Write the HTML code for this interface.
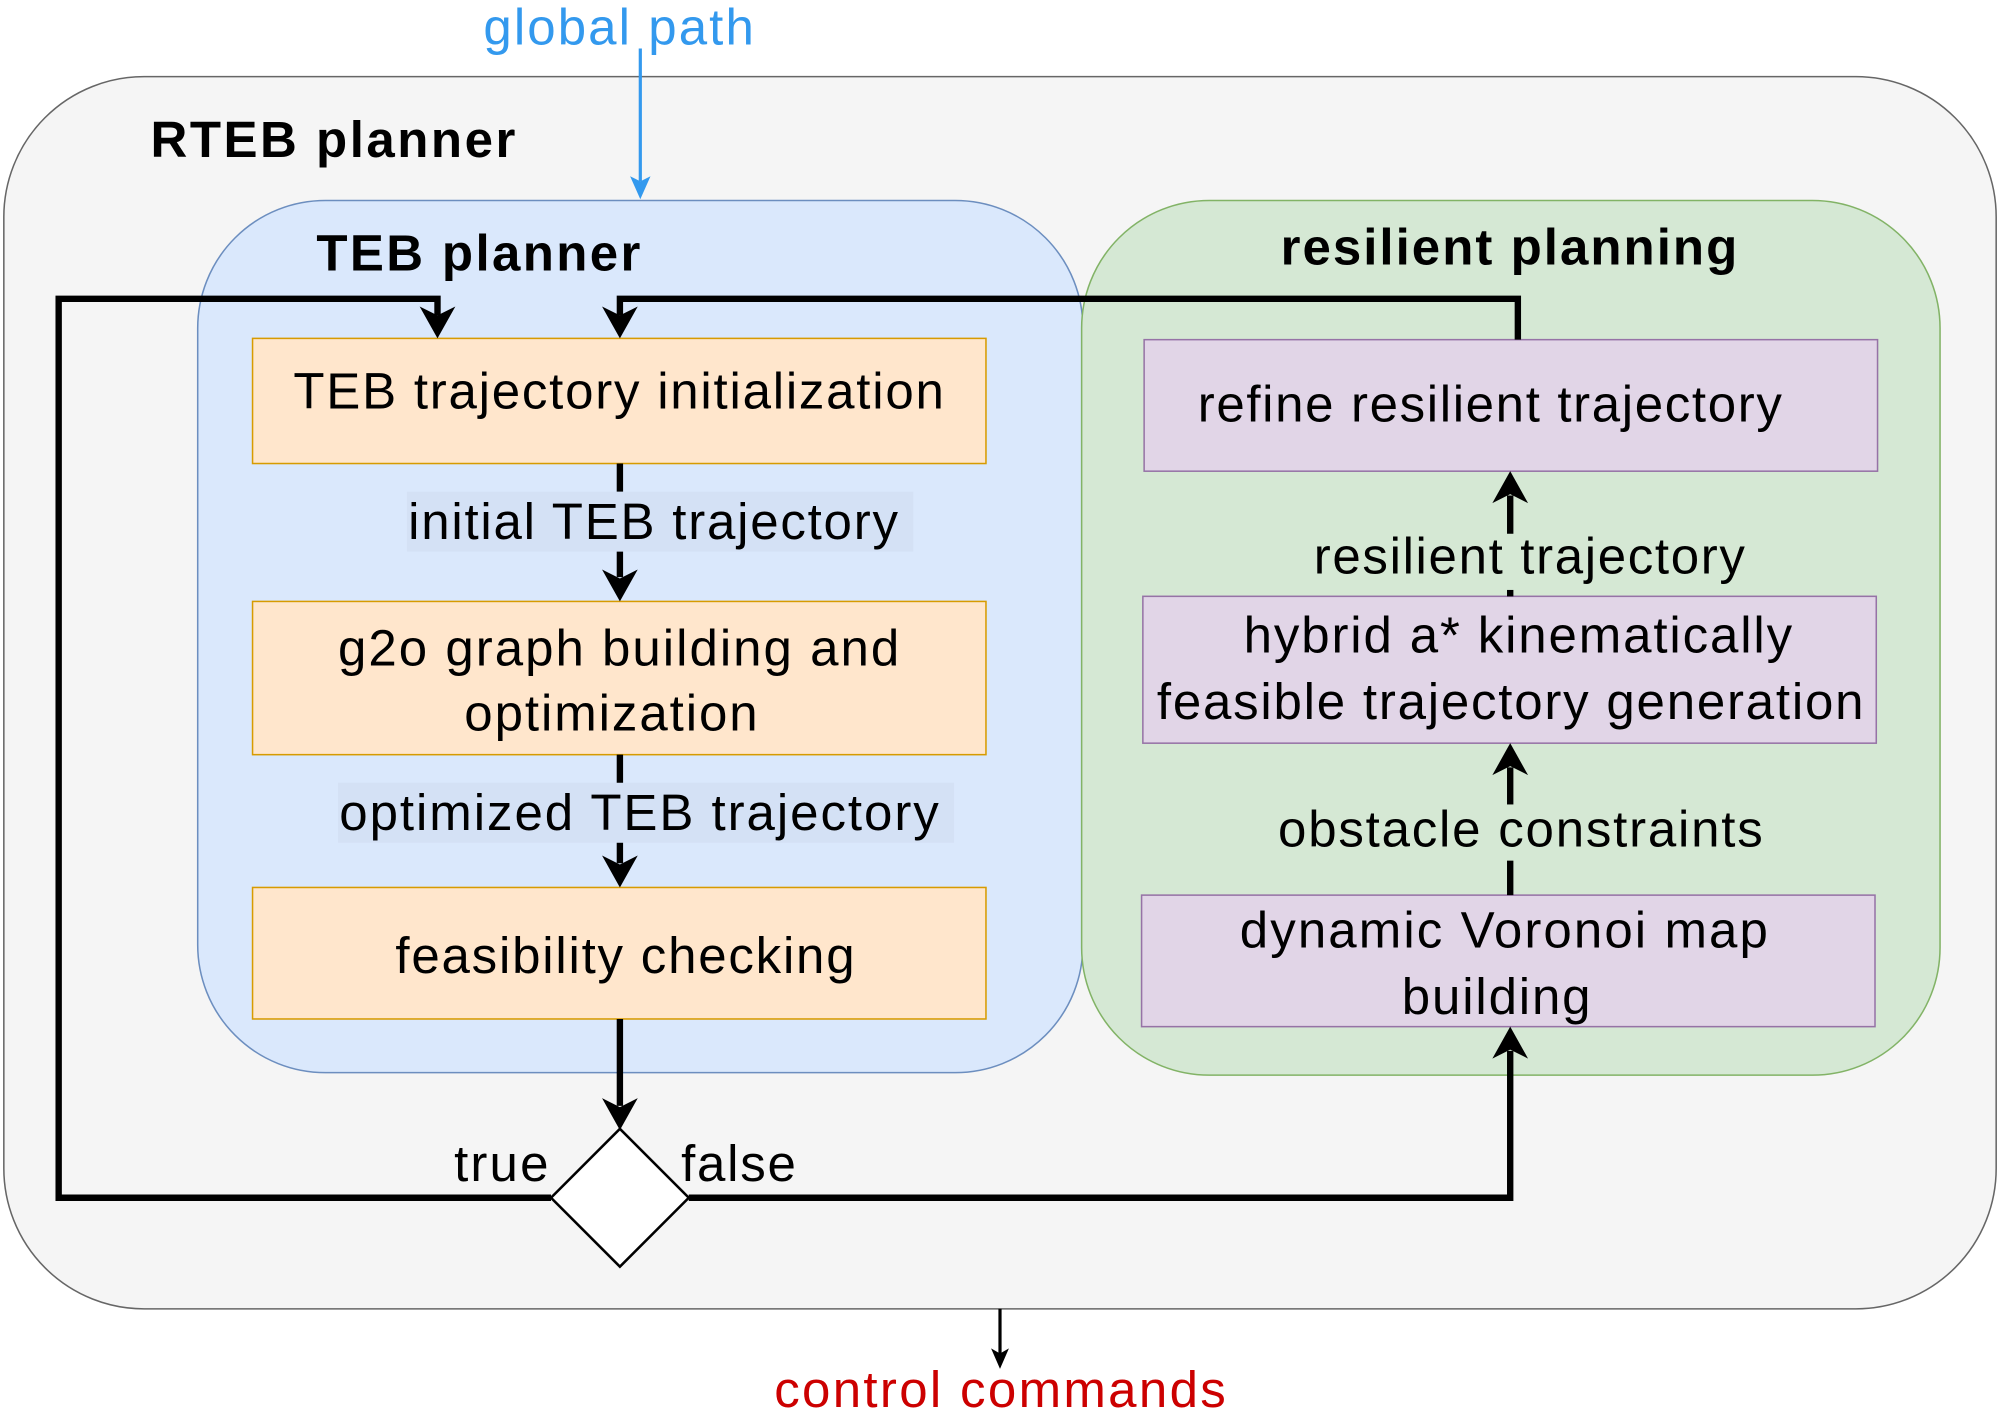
<!DOCTYPE html>
<html><head><meta charset="utf-8"><style>html,body{margin:0;padding:0;background:#fff}svg{display:block}</style></head>
<body>
<svg width="2000" height="1411" viewBox="0 0 1568 1105" preserveAspectRatio="none" xmlns="http://www.w3.org/2000/svg" font-family="Liberation Sans, sans-serif">
<defs>
<marker id="a" viewBox="0 0 10 10" refX="9" refY="5" markerWidth="5" markerHeight="5" orient="auto" markerUnits="userSpaceOnUse" style="overflow:visible">
<path d="M0,0 L10,5 L0,10 L3,5 Z" fill="#000" transform="scale(2.4) translate(-6,-5) translate(6,5)"/>
</marker>
</defs>
<rect x="0" y="0" width="1568" height="1105" fill="#fff"/>
<rect x="3" y="60" width="1562" height="965" rx="110" fill="#f5f5f5" stroke="#666" stroke-width="1.2"/>
<text x="118" y="123" font-size="40" font-weight="bold" textLength="286">RTEB planner</text>
<text x="485" y="35" font-size="40" fill="#3399ee" text-anchor="middle" textLength="212">global path</text>
<line x1="502" y1="38" x2="502" y2="142" stroke="#3399ee" stroke-width="2.5"/>
<path d="M494,138 L502,156 L510,138 L502,142Z" fill="#3399ee"/>
<rect x="155" y="157" width="694" height="683" rx="100" fill="#dae8fc" stroke="#6c8ebf" stroke-width="1.2"/>
<text x="248" y="212" font-size="40" font-weight="bold" textLength="254">TEB planner</text>
<rect x="848" y="157" width="673" height="685" rx="100" fill="#d5e8d4" stroke="#82b366" stroke-width="1.2"/>
<text x="1183" y="207" font-size="40" font-weight="bold" text-anchor="middle" textLength="358">resilient planning</text>
<g fill="#ffe6cc" stroke="#d79b00" stroke-width="1.2">
<rect x="198" y="265" width="575" height="98"/>
<rect x="198" y="471" width="575" height="120"/>
<rect x="198" y="695" width="575" height="103"/>
</g>
<g fill="#e1d5e7" stroke="#9673a6" stroke-width="1.2">
<rect x="897" y="266" width="575" height="103"/>
<rect x="896" y="467" width="575" height="115"/>
<rect x="895" y="701" width="575" height="103"/>
</g>
<g stroke="#000" stroke-width="5" fill="none">
<line x1="486" y1="363" x2="486" y2="452"/>
<line x1="486" y1="591" x2="486" y2="676"/>
<line x1="486" y1="798" x2="486" y2="866"/>
<polyline points="432,938 46,938 46,234 343,234 343,247"/>
<polyline points="540,938 1184,938 1184,823"/>
<polyline points="1190,266 1190,234 486,234 486,247"/>
<line x1="1184" y1="467" x2="1184" y2="388"/>
<line x1="1184" y1="701" x2="1184" y2="601"/>
</g>
<g fill="#000">
<path d="M472,446 L486,471 L500,446 L486,453Z"/>
<path d="M472,670 L486,695 L500,670 L486,677Z"/>
<path d="M472,860 L486,885 L500,860 L486,867Z"/>
<path d="M329,240 L343,265 L357,240 L343,247Z"/>
<path d="M472,240 L486,265 L500,240 L486,247Z"/>
<path d="M1170,829 L1184,804 L1198,829 L1184,822Z"/>
<path d="M1170,394 L1184,369 L1198,394 L1184,387Z"/>
<path d="M1170,607 L1184,582 L1198,607 L1184,600Z"/>
</g>
<rect x="319" y="385" width="397" height="47" fill="#d4e1f5"/>
<text x="512" y="422" font-size="40" text-anchor="middle" textLength="384">initial TEB trajectory</text>
<rect x="265" y="613" width="483" height="47" fill="#d4e1f5"/>
<text x="501" y="650" font-size="40" text-anchor="middle" textLength="470">optimized TEB trajectory</text>
<rect x="1030" y="418" width="340" height="44" fill="#d5e8d4"/>
<text x="1199" y="449" font-size="40" text-anchor="middle" textLength="338">resilient trajectory</text>
<rect x="1002" y="630" width="380" height="44" fill="#d5e8d4"/>
<text x="1192" y="663" font-size="40" text-anchor="middle" textLength="380">obstacle constraints</text>
<g font-size="40" text-anchor="middle">
<text x="485" y="320" textLength="510">TEB trajectory initialization</text>
<text x="485" y="521" textLength="440">g2o graph building and</text>
<text x="479" y="572" textLength="230">optimization</text>
<text x="490" y="762" textLength="360">feasibility checking</text>
<text x="1168" y="330" textLength="458">refine resilient trajectory</text>
<text x="1190" y="511" textLength="430">hybrid a* kinematically</text>
<text x="1184" y="563" textLength="554">feasible trajectory generation</text>
<text x="1179" y="742" textLength="414">dynamic Voronoi map</text>
<text x="1173" y="794" textLength="148">building</text>
</g>
<polygon points="486,884 540,938 486,992 432,938" fill="#fff" stroke="#000" stroke-width="2"/>
<text x="430" y="925" font-size="40" text-anchor="end" textLength="74">true</text>
<text x="534" y="925" font-size="40" textLength="90">false</text>
<line x1="784" y1="1025" x2="784" y2="1062" stroke="#000" stroke-width="2.5"/>
<path d="M777,1056 L784,1072 L791,1056 L784,1060Z" fill="#000"/>
<text x="784" y="1102" font-size="40" fill="#cc0000" text-anchor="middle" textLength="354">control commands</text>
</svg>
</body></html>
